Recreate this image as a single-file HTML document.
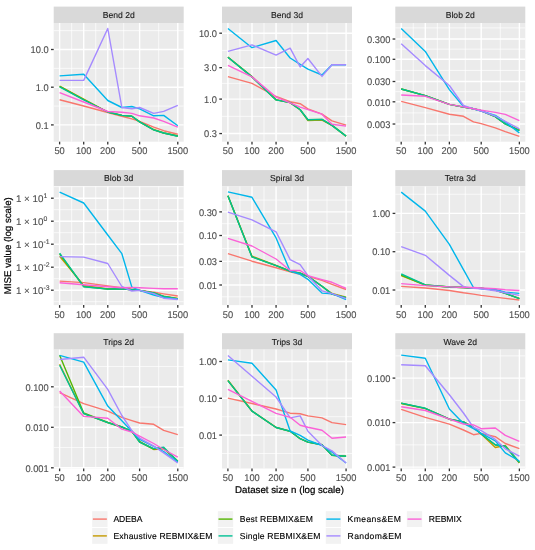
<!DOCTYPE html>
<html><head><meta charset="utf-8"><style>
html,body{margin:0;padding:0;background:#fff;width:535px;height:550px;overflow:hidden}
svg{will-change:transform}
svg text{font-family:"Liberation Sans",sans-serif;stroke:currentColor;stroke-width:0.12px;text-rendering:geometricPrecision}

</style></head><body>
<svg width="535" height="550" viewBox="0 0 535 550" style="display:block">
<rect width="535" height="550" fill="#fff"/>
<rect x="53.7" y="6.6" width="130" height="16.4" fill="#D9D9D9"/>
<text x="118.7" y="17.9" font-size="8.6" fill="#1A1A1A" color="#1A1A1A" text-anchor="middle">Bend 2d</text>
<rect x="53.7" y="23" width="130" height="118.7" fill="#EBEBEB"/>
<svg x="53.7" y="23" width="130" height="118.7" viewBox="53.7 23 130 118.7" overflow="hidden">
<line x1="53.7" x2="183.7" y1="143.75" y2="143.75" stroke="#fff" stroke-width="0.7"/>
<line x1="53.7" x2="183.7" y1="106.05" y2="106.05" stroke="#fff" stroke-width="0.7"/>
<line x1="53.7" x2="183.7" y1="68.35" y2="68.35" stroke="#fff" stroke-width="0.7"/>
<line x1="53.7" x2="183.7" y1="30.65" y2="30.65" stroke="#fff" stroke-width="0.7"/>
<line x1="47.57" x2="47.57" y1="23" y2="141.7" stroke="#fff" stroke-width="0.7"/>
<line x1="71.65" x2="71.65" y1="23" y2="141.7" stroke="#fff" stroke-width="0.7"/>
<line x1="95.73" x2="95.73" y1="23" y2="141.7" stroke="#fff" stroke-width="0.7"/>
<line x1="123.69" x2="123.69" y1="23" y2="141.7" stroke="#fff" stroke-width="0.7"/>
<line x1="158.69" x2="158.69" y1="23" y2="141.7" stroke="#fff" stroke-width="0.7"/>
<line x1="189.82" x2="189.82" y1="23" y2="141.7" stroke="#fff" stroke-width="0.7"/>
<line x1="53.7" x2="183.7" y1="49.5" y2="49.5" stroke="#fff" stroke-width="1.4"/>
<line x1="53.7" x2="183.7" y1="87.2" y2="87.2" stroke="#fff" stroke-width="1.4"/>
<line x1="53.7" x2="183.7" y1="124.9" y2="124.9" stroke="#fff" stroke-width="1.4"/>
<line x1="59.61" x2="59.61" y1="23" y2="141.7" stroke="#fff" stroke-width="1.4"/>
<line x1="83.69" x2="83.69" y1="23" y2="141.7" stroke="#fff" stroke-width="1.4"/>
<line x1="107.77" x2="107.77" y1="23" y2="141.7" stroke="#fff" stroke-width="1.4"/>
<line x1="139.61" x2="139.61" y1="23" y2="141.7" stroke="#fff" stroke-width="1.4"/>
<line x1="177.78" x2="177.78" y1="23" y2="141.7" stroke="#fff" stroke-width="1.4"/>
<polyline points="59.61,99.8 83.69,106 107.77,112.5 121.86,116.3 131.86,118.9 139.61,121.3 153.7,127.1 163.69,130.7 177.78,134.3" fill="none" stroke="#F8766D" stroke-width="1.4" stroke-linejoin="round" stroke-linecap="butt"/>
<polyline points="59.61,86 83.69,99 107.77,112 121.86,115.4 131.86,116.3 139.61,121.9 153.7,129.5 163.69,133 177.78,136" fill="none" stroke="#C49A00" stroke-width="1.4" stroke-linejoin="round" stroke-linecap="butt"/>
<polyline points="59.61,86.3 83.69,99.5 107.77,112 121.86,115.4 131.86,116.3 139.61,121.9 153.7,129.8 163.69,133 177.78,136" fill="none" stroke="#53B400" stroke-width="1.4" stroke-linejoin="round" stroke-linecap="butt"/>
<polyline points="59.61,86.8 83.69,99.8 107.77,112 121.86,115.4 131.86,116.3 139.61,121.9 153.7,129.8 163.69,133 177.78,136.3" fill="none" stroke="#00C094" stroke-width="1.4" stroke-linejoin="round" stroke-linecap="butt"/>
<polyline points="59.61,75.9 83.69,74.3 107.77,100.5 121.86,107.5 131.86,106.5 139.61,108.8 153.7,115.8 163.69,115.4 177.78,125.8" fill="none" stroke="#00B6EB" stroke-width="1.4" stroke-linejoin="round" stroke-linecap="butt"/>
<polyline points="59.61,80.4 83.69,80.4 107.77,28.5 121.86,107.5 131.86,108.8 139.61,107.5 153.7,113.4 163.69,111.4 177.78,105.3" fill="none" stroke="#A58AFF" stroke-width="1.4" stroke-linejoin="round" stroke-linecap="butt"/>
<polyline points="59.61,92.6 83.69,102 107.77,111.5 121.86,112.2 131.86,113.4 139.61,115.8 153.7,118 163.69,121.3 177.78,127.1" fill="none" stroke="#FB61D7" stroke-width="1.4" stroke-linejoin="round" stroke-linecap="butt"/>
</svg>
<line x1="51" x2="53.7" y1="49.5" y2="49.5" stroke="#333" stroke-width="1.3"/>
<text transform="translate(48.7,49.7) scale(1,1.05)" y="3.33" font-size="9.3" fill="#4D4D4D" color="#4D4D4D" text-anchor="end">10.0</text>
<line x1="51" x2="53.7" y1="87.2" y2="87.2" stroke="#333" stroke-width="1.3"/>
<text transform="translate(48.7,87.4) scale(1,1.05)" y="3.33" font-size="9.3" fill="#4D4D4D" color="#4D4D4D" text-anchor="end">1.0</text>
<line x1="51" x2="53.7" y1="124.9" y2="124.9" stroke="#333" stroke-width="1.3"/>
<text transform="translate(48.7,125.1) scale(1,1.05)" y="3.33" font-size="9.3" fill="#4D4D4D" color="#4D4D4D" text-anchor="end">0.1</text>
<line x1="59.61" x2="59.61" y1="141.7" y2="144.4" stroke="#333" stroke-width="1.3"/>
<text transform="translate(59.61,150.7) scale(1,1.05)" y="3.33" font-size="9.3" fill="#4D4D4D" color="#4D4D4D" text-anchor="middle">50</text>
<line x1="83.69" x2="83.69" y1="141.7" y2="144.4" stroke="#333" stroke-width="1.3"/>
<text transform="translate(83.69,150.7) scale(1,1.05)" y="3.33" font-size="9.3" fill="#4D4D4D" color="#4D4D4D" text-anchor="middle">100</text>
<line x1="107.77" x2="107.77" y1="141.7" y2="144.4" stroke="#333" stroke-width="1.3"/>
<text transform="translate(107.77,150.7) scale(1,1.05)" y="3.33" font-size="9.3" fill="#4D4D4D" color="#4D4D4D" text-anchor="middle">200</text>
<line x1="139.61" x2="139.61" y1="141.7" y2="144.4" stroke="#333" stroke-width="1.3"/>
<text transform="translate(139.61,150.7) scale(1,1.05)" y="3.33" font-size="9.3" fill="#4D4D4D" color="#4D4D4D" text-anchor="middle">500</text>
<line x1="177.78" x2="177.78" y1="141.7" y2="144.4" stroke="#333" stroke-width="1.3"/>
<text transform="translate(177.78,150.7) scale(1,1.05)" y="3.33" font-size="9.3" fill="#4D4D4D" color="#4D4D4D" text-anchor="middle">1500</text>
<rect x="222" y="6.6" width="130" height="16.4" fill="#D9D9D9"/>
<text x="287" y="17.9" font-size="8.6" fill="#1A1A1A" color="#1A1A1A" text-anchor="middle">Bend 3d</text>
<rect x="222" y="23" width="130" height="118.7" fill="#EBEBEB"/>
<svg x="222" y="23" width="130" height="118.7" viewBox="222 23 130 118.7" overflow="hidden">
<line x1="222" x2="352" y1="150.79" y2="150.79" stroke="#fff" stroke-width="0.7"/>
<line x1="222" x2="352" y1="116.33" y2="116.33" stroke="#fff" stroke-width="0.7"/>
<line x1="222" x2="352" y1="83.38" y2="83.38" stroke="#fff" stroke-width="0.7"/>
<line x1="222" x2="352" y1="50.43" y2="50.43" stroke="#fff" stroke-width="0.7"/>
<line x1="222" x2="352" y1="15.97" y2="15.97" stroke="#fff" stroke-width="0.7"/>
<line x1="215.87" x2="215.87" y1="23" y2="141.7" stroke="#fff" stroke-width="0.7"/>
<line x1="239.95" x2="239.95" y1="23" y2="141.7" stroke="#fff" stroke-width="0.7"/>
<line x1="264.03" x2="264.03" y1="23" y2="141.7" stroke="#fff" stroke-width="0.7"/>
<line x1="291.99" x2="291.99" y1="23" y2="141.7" stroke="#fff" stroke-width="0.7"/>
<line x1="326.99" x2="326.99" y1="23" y2="141.7" stroke="#fff" stroke-width="0.7"/>
<line x1="358.12" x2="358.12" y1="23" y2="141.7" stroke="#fff" stroke-width="0.7"/>
<line x1="222" x2="352" y1="33.2" y2="33.2" stroke="#fff" stroke-width="1.4"/>
<line x1="222" x2="352" y1="67.66" y2="67.66" stroke="#fff" stroke-width="1.4"/>
<line x1="222" x2="352" y1="99.1" y2="99.1" stroke="#fff" stroke-width="1.4"/>
<line x1="222" x2="352" y1="133.56" y2="133.56" stroke="#fff" stroke-width="1.4"/>
<line x1="227.91" x2="227.91" y1="23" y2="141.7" stroke="#fff" stroke-width="1.4"/>
<line x1="251.99" x2="251.99" y1="23" y2="141.7" stroke="#fff" stroke-width="1.4"/>
<line x1="276.07" x2="276.07" y1="23" y2="141.7" stroke="#fff" stroke-width="1.4"/>
<line x1="307.91" x2="307.91" y1="23" y2="141.7" stroke="#fff" stroke-width="1.4"/>
<line x1="346.08" x2="346.08" y1="23" y2="141.7" stroke="#fff" stroke-width="1.4"/>
<polyline points="227.91,76.7 251.99,83.4 276.07,96.5 290.16,101.7 300.16,103.7 307.91,108.9 322,114.2 331.99,120.9 346.08,125.1" fill="none" stroke="#F8766D" stroke-width="1.4" stroke-linejoin="round" stroke-linecap="butt"/>
<polyline points="227.91,57 251.99,76.5 276.07,99.6 290.16,102.6 300.16,109.7 307.91,120.6 322,120.1 331.99,125.4 346.08,136.1" fill="none" stroke="#C49A00" stroke-width="1.4" stroke-linejoin="round" stroke-linecap="butt"/>
<polyline points="227.91,57.3 251.99,76.9 276.07,99.9 290.16,102.6 300.16,109.7 307.91,119.7 322,119.4 331.99,125.4 346.08,136.1" fill="none" stroke="#53B400" stroke-width="1.4" stroke-linejoin="round" stroke-linecap="butt"/>
<polyline points="227.91,57.3 251.99,76.9 276.07,99.9 290.16,102.6 300.16,109.7 307.91,119.7 322,119.4 331.99,125.4 346.08,136.1" fill="none" stroke="#00C094" stroke-width="1.4" stroke-linejoin="round" stroke-linecap="butt"/>
<polyline points="227.91,28.5 251.99,47.7 276.07,40.5 290.16,58 300.16,64.3 307.91,69.2 322,75 331.99,64.8 346.08,64.8" fill="none" stroke="#00B6EB" stroke-width="1.4" stroke-linejoin="round" stroke-linecap="butt"/>
<polyline points="227.91,51.4 251.99,44.9 276.07,55.1 290.16,48.2 300.16,67 307.91,58.5 322,76.4 331.99,64.8 346.08,64.8" fill="none" stroke="#A58AFF" stroke-width="1.4" stroke-linejoin="round" stroke-linecap="butt"/>
<polyline points="227.91,65.4 251.99,76.9 276.07,97.1 290.16,102.9 300.16,107.1 307.91,109.7 322,114.2 331.99,124.2 346.08,126.1" fill="none" stroke="#FB61D7" stroke-width="1.4" stroke-linejoin="round" stroke-linecap="butt"/>
</svg>
<line x1="219.3" x2="222" y1="33.2" y2="33.2" stroke="#333" stroke-width="1.3"/>
<text transform="translate(217,33.4) scale(1,1.05)" y="3.33" font-size="9.3" fill="#4D4D4D" color="#4D4D4D" text-anchor="end">10.0</text>
<line x1="219.3" x2="222" y1="67.66" y2="67.66" stroke="#333" stroke-width="1.3"/>
<text transform="translate(217,67.86) scale(1,1.05)" y="3.33" font-size="9.3" fill="#4D4D4D" color="#4D4D4D" text-anchor="end">3.0</text>
<line x1="219.3" x2="222" y1="99.1" y2="99.1" stroke="#333" stroke-width="1.3"/>
<text transform="translate(217,99.3) scale(1,1.05)" y="3.33" font-size="9.3" fill="#4D4D4D" color="#4D4D4D" text-anchor="end">1.0</text>
<line x1="219.3" x2="222" y1="133.56" y2="133.56" stroke="#333" stroke-width="1.3"/>
<text transform="translate(217,133.76) scale(1,1.05)" y="3.33" font-size="9.3" fill="#4D4D4D" color="#4D4D4D" text-anchor="end">0.3</text>
<line x1="227.91" x2="227.91" y1="141.7" y2="144.4" stroke="#333" stroke-width="1.3"/>
<text transform="translate(227.91,150.7) scale(1,1.05)" y="3.33" font-size="9.3" fill="#4D4D4D" color="#4D4D4D" text-anchor="middle">50</text>
<line x1="251.99" x2="251.99" y1="141.7" y2="144.4" stroke="#333" stroke-width="1.3"/>
<text transform="translate(251.99,150.7) scale(1,1.05)" y="3.33" font-size="9.3" fill="#4D4D4D" color="#4D4D4D" text-anchor="middle">100</text>
<line x1="276.07" x2="276.07" y1="141.7" y2="144.4" stroke="#333" stroke-width="1.3"/>
<text transform="translate(276.07,150.7) scale(1,1.05)" y="3.33" font-size="9.3" fill="#4D4D4D" color="#4D4D4D" text-anchor="middle">200</text>
<line x1="307.91" x2="307.91" y1="141.7" y2="144.4" stroke="#333" stroke-width="1.3"/>
<text transform="translate(307.91,150.7) scale(1,1.05)" y="3.33" font-size="9.3" fill="#4D4D4D" color="#4D4D4D" text-anchor="middle">500</text>
<line x1="346.08" x2="346.08" y1="141.7" y2="144.4" stroke="#333" stroke-width="1.3"/>
<text transform="translate(346.08,150.7) scale(1,1.05)" y="3.33" font-size="9.3" fill="#4D4D4D" color="#4D4D4D" text-anchor="middle">1500</text>
<rect x="395.3" y="6.6" width="130" height="16.4" fill="#D9D9D9"/>
<text x="460.3" y="17.9" font-size="8.6" fill="#1A1A1A" color="#1A1A1A" text-anchor="middle">Blob 2d</text>
<rect x="395.3" y="23" width="130" height="118.7" fill="#EBEBEB"/>
<svg x="395.3" y="23" width="130" height="118.7" viewBox="395.3 23 130 118.7" overflow="hidden">
<line x1="395.3" x2="525.3" y1="135.13" y2="135.13" stroke="#fff" stroke-width="0.7"/>
<line x1="395.3" x2="525.3" y1="112.91" y2="112.91" stroke="#fff" stroke-width="0.7"/>
<line x1="395.3" x2="525.3" y1="91.66" y2="91.66" stroke="#fff" stroke-width="0.7"/>
<line x1="395.3" x2="525.3" y1="70.41" y2="70.41" stroke="#fff" stroke-width="0.7"/>
<line x1="395.3" x2="525.3" y1="49.16" y2="49.16" stroke="#fff" stroke-width="0.7"/>
<line x1="395.3" x2="525.3" y1="27.91" y2="27.91" stroke="#fff" stroke-width="0.7"/>
<line x1="389.17" x2="389.17" y1="23" y2="141.7" stroke="#fff" stroke-width="0.7"/>
<line x1="413.25" x2="413.25" y1="23" y2="141.7" stroke="#fff" stroke-width="0.7"/>
<line x1="437.33" x2="437.33" y1="23" y2="141.7" stroke="#fff" stroke-width="0.7"/>
<line x1="465.29" x2="465.29" y1="23" y2="141.7" stroke="#fff" stroke-width="0.7"/>
<line x1="500.29" x2="500.29" y1="23" y2="141.7" stroke="#fff" stroke-width="0.7"/>
<line x1="531.42" x2="531.42" y1="23" y2="141.7" stroke="#fff" stroke-width="0.7"/>
<line x1="395.3" x2="525.3" y1="39.02" y2="39.02" stroke="#fff" stroke-width="1.4"/>
<line x1="395.3" x2="525.3" y1="59.3" y2="59.3" stroke="#fff" stroke-width="1.4"/>
<line x1="395.3" x2="525.3" y1="81.52" y2="81.52" stroke="#fff" stroke-width="1.4"/>
<line x1="395.3" x2="525.3" y1="101.8" y2="101.8" stroke="#fff" stroke-width="1.4"/>
<line x1="395.3" x2="525.3" y1="124.02" y2="124.02" stroke="#fff" stroke-width="1.4"/>
<line x1="401.21" x2="401.21" y1="23" y2="141.7" stroke="#fff" stroke-width="1.4"/>
<line x1="425.29" x2="425.29" y1="23" y2="141.7" stroke="#fff" stroke-width="1.4"/>
<line x1="449.37" x2="449.37" y1="23" y2="141.7" stroke="#fff" stroke-width="1.4"/>
<line x1="481.21" x2="481.21" y1="23" y2="141.7" stroke="#fff" stroke-width="1.4"/>
<line x1="519.38" x2="519.38" y1="23" y2="141.7" stroke="#fff" stroke-width="1.4"/>
<polyline points="401.21,101.4 425.29,107.6 449.37,114.2 463.46,116.3 473.46,121.9 481.21,123.6 495.3,127.8 505.29,131.7 519.38,136.3" fill="none" stroke="#F8766D" stroke-width="1.4" stroke-linejoin="round" stroke-linecap="butt"/>
<polyline points="401.21,89 425.29,95.7 449.37,104.4 463.46,107.1 473.46,108.8 481.21,110.8 495.3,116.7 505.29,123.9 519.38,130" fill="none" stroke="#C49A00" stroke-width="1.4" stroke-linejoin="round" stroke-linecap="butt"/>
<polyline points="401.21,89 425.29,95.7 449.37,104.4 463.46,107.1 473.46,108.8 481.21,110.8 495.3,116.7 505.29,123.9 519.38,130.4" fill="none" stroke="#53B400" stroke-width="1.4" stroke-linejoin="round" stroke-linecap="butt"/>
<polyline points="401.21,89 425.29,95.7 449.37,104.4 463.46,107.1 473.46,108.8 481.21,110.8 495.3,116.7 505.29,123.9 519.38,130.8" fill="none" stroke="#00C094" stroke-width="1.4" stroke-linejoin="round" stroke-linecap="butt"/>
<polyline points="401.21,28.5 425.29,51.4 449.37,89.6 463.46,106.5 473.46,108.8 481.21,111 495.3,115.4 505.29,121.9 519.38,133" fill="none" stroke="#00B6EB" stroke-width="1.4" stroke-linejoin="round" stroke-linecap="butt"/>
<polyline points="401.21,43.8 425.29,65.6 449.37,85.5 463.46,105.5 473.46,108.8 481.21,111 495.3,116 505.29,121.3 519.38,128.8" fill="none" stroke="#A58AFF" stroke-width="1.4" stroke-linejoin="round" stroke-linecap="butt"/>
<polyline points="401.21,95 425.29,96.3 449.37,104.4 463.46,106.9 473.46,108.8 481.21,110.1 495.3,112.4 505.29,114.4 519.38,120.6" fill="none" stroke="#FB61D7" stroke-width="1.4" stroke-linejoin="round" stroke-linecap="butt"/>
</svg>
<line x1="392.6" x2="395.3" y1="39.02" y2="39.02" stroke="#333" stroke-width="1.3"/>
<text transform="translate(390.3,39.22) scale(1,1.05)" y="3.33" font-size="9.3" fill="#4D4D4D" color="#4D4D4D" text-anchor="end">0.300</text>
<line x1="392.6" x2="395.3" y1="59.3" y2="59.3" stroke="#333" stroke-width="1.3"/>
<text transform="translate(390.3,59.5) scale(1,1.05)" y="3.33" font-size="9.3" fill="#4D4D4D" color="#4D4D4D" text-anchor="end">0.100</text>
<line x1="392.6" x2="395.3" y1="81.52" y2="81.52" stroke="#333" stroke-width="1.3"/>
<text transform="translate(390.3,81.72) scale(1,1.05)" y="3.33" font-size="9.3" fill="#4D4D4D" color="#4D4D4D" text-anchor="end">0.030</text>
<line x1="392.6" x2="395.3" y1="101.8" y2="101.8" stroke="#333" stroke-width="1.3"/>
<text transform="translate(390.3,102) scale(1,1.05)" y="3.33" font-size="9.3" fill="#4D4D4D" color="#4D4D4D" text-anchor="end">0.010</text>
<line x1="392.6" x2="395.3" y1="124.02" y2="124.02" stroke="#333" stroke-width="1.3"/>
<text transform="translate(390.3,124.22) scale(1,1.05)" y="3.33" font-size="9.3" fill="#4D4D4D" color="#4D4D4D" text-anchor="end">0.003</text>
<line x1="401.21" x2="401.21" y1="141.7" y2="144.4" stroke="#333" stroke-width="1.3"/>
<text transform="translate(401.21,150.7) scale(1,1.05)" y="3.33" font-size="9.3" fill="#4D4D4D" color="#4D4D4D" text-anchor="middle">50</text>
<line x1="425.29" x2="425.29" y1="141.7" y2="144.4" stroke="#333" stroke-width="1.3"/>
<text transform="translate(425.29,150.7) scale(1,1.05)" y="3.33" font-size="9.3" fill="#4D4D4D" color="#4D4D4D" text-anchor="middle">100</text>
<line x1="449.37" x2="449.37" y1="141.7" y2="144.4" stroke="#333" stroke-width="1.3"/>
<text transform="translate(449.37,150.7) scale(1,1.05)" y="3.33" font-size="9.3" fill="#4D4D4D" color="#4D4D4D" text-anchor="middle">200</text>
<line x1="481.21" x2="481.21" y1="141.7" y2="144.4" stroke="#333" stroke-width="1.3"/>
<text transform="translate(481.21,150.7) scale(1,1.05)" y="3.33" font-size="9.3" fill="#4D4D4D" color="#4D4D4D" text-anchor="middle">500</text>
<line x1="519.38" x2="519.38" y1="141.7" y2="144.4" stroke="#333" stroke-width="1.3"/>
<text transform="translate(519.38,150.7) scale(1,1.05)" y="3.33" font-size="9.3" fill="#4D4D4D" color="#4D4D4D" text-anchor="middle">1500</text>
<rect x="53.7" y="170.1" width="130" height="16.3" fill="#D9D9D9"/>
<text x="118.7" y="181.35" font-size="8.6" fill="#1A1A1A" color="#1A1A1A" text-anchor="middle">Blob 3d</text>
<rect x="53.7" y="186.4" width="130" height="118.7" fill="#EBEBEB"/>
<svg x="53.7" y="186.4" width="130" height="118.7" viewBox="53.7 186.4 130 118.7" overflow="hidden">
<line x1="53.7" x2="183.7" y1="301.7" y2="301.7" stroke="#fff" stroke-width="0.7"/>
<line x1="53.7" x2="183.7" y1="278.7" y2="278.7" stroke="#fff" stroke-width="0.7"/>
<line x1="53.7" x2="183.7" y1="255.7" y2="255.7" stroke="#fff" stroke-width="0.7"/>
<line x1="53.7" x2="183.7" y1="232.7" y2="232.7" stroke="#fff" stroke-width="0.7"/>
<line x1="53.7" x2="183.7" y1="209.7" y2="209.7" stroke="#fff" stroke-width="0.7"/>
<line x1="53.7" x2="183.7" y1="186.7" y2="186.7" stroke="#fff" stroke-width="0.7"/>
<line x1="47.57" x2="47.57" y1="186.4" y2="305.1" stroke="#fff" stroke-width="0.7"/>
<line x1="71.65" x2="71.65" y1="186.4" y2="305.1" stroke="#fff" stroke-width="0.7"/>
<line x1="95.73" x2="95.73" y1="186.4" y2="305.1" stroke="#fff" stroke-width="0.7"/>
<line x1="123.69" x2="123.69" y1="186.4" y2="305.1" stroke="#fff" stroke-width="0.7"/>
<line x1="158.69" x2="158.69" y1="186.4" y2="305.1" stroke="#fff" stroke-width="0.7"/>
<line x1="189.82" x2="189.82" y1="186.4" y2="305.1" stroke="#fff" stroke-width="0.7"/>
<line x1="53.7" x2="183.7" y1="198.2" y2="198.2" stroke="#fff" stroke-width="1.4"/>
<line x1="53.7" x2="183.7" y1="221.2" y2="221.2" stroke="#fff" stroke-width="1.4"/>
<line x1="53.7" x2="183.7" y1="244.2" y2="244.2" stroke="#fff" stroke-width="1.4"/>
<line x1="53.7" x2="183.7" y1="267.2" y2="267.2" stroke="#fff" stroke-width="1.4"/>
<line x1="53.7" x2="183.7" y1="290.2" y2="290.2" stroke="#fff" stroke-width="1.4"/>
<line x1="59.61" x2="59.61" y1="186.4" y2="305.1" stroke="#fff" stroke-width="1.4"/>
<line x1="83.69" x2="83.69" y1="186.4" y2="305.1" stroke="#fff" stroke-width="1.4"/>
<line x1="107.77" x2="107.77" y1="186.4" y2="305.1" stroke="#fff" stroke-width="1.4"/>
<line x1="139.61" x2="139.61" y1="186.4" y2="305.1" stroke="#fff" stroke-width="1.4"/>
<line x1="177.78" x2="177.78" y1="186.4" y2="305.1" stroke="#fff" stroke-width="1.4"/>
<polyline points="59.61,281.1 83.69,282.6 107.77,285.9 121.86,287.8 131.86,289.1 139.61,290.4 153.7,292.3 163.69,293.9 177.78,296" fill="none" stroke="#F8766D" stroke-width="1.4" stroke-linejoin="round" stroke-linecap="butt"/>
<polyline points="59.61,256.2 83.69,285.4 107.77,289 121.86,288.7 131.86,289.7 139.61,290.4 153.7,293 163.69,296.3 177.78,298.5" fill="none" stroke="#C49A00" stroke-width="1.4" stroke-linejoin="round" stroke-linecap="butt"/>
<polyline points="59.61,254 83.69,286.5 107.77,289 121.86,288.7 131.86,289.7 139.61,290.4 153.7,293 163.69,296.5 177.78,298.7" fill="none" stroke="#53B400" stroke-width="1.4" stroke-linejoin="round" stroke-linecap="butt"/>
<polyline points="59.61,253.1 83.69,286.7 107.77,289.1 121.86,288.7 131.86,289.7 139.61,290.4 153.7,293 163.69,296.5 177.78,298.9" fill="none" stroke="#00C094" stroke-width="1.4" stroke-linejoin="round" stroke-linecap="butt"/>
<polyline points="59.61,192.1 83.69,203 107.77,235 121.86,253.7 131.86,287.1 139.61,290.4 153.7,295 163.69,297.6 177.78,298.9" fill="none" stroke="#00B6EB" stroke-width="1.4" stroke-linejoin="round" stroke-linecap="butt"/>
<polyline points="59.61,256.6 83.69,257.1 107.77,263.5 121.86,286.5 131.86,291 139.61,290.4 153.7,293.6 163.69,298.2 177.78,299.5" fill="none" stroke="#A58AFF" stroke-width="1.4" stroke-linejoin="round" stroke-linecap="butt"/>
<polyline points="59.61,282.8 83.69,284.8 107.77,286.7 121.86,287.8 131.86,287.4 139.61,287.8 153.7,288.4 163.69,288.7 177.78,288.7" fill="none" stroke="#FB61D7" stroke-width="1.4" stroke-linejoin="round" stroke-linecap="butt"/>
</svg>
<line x1="51" x2="53.7" y1="198.2" y2="198.2" stroke="#333" stroke-width="1.3"/>
<text transform="translate(15.9,198)" y="3.51" font-size="9.8" fill="#4D4D4D" color="#4D4D4D">1 × 10<tspan font-size="6.86" dy="-3.4">1</tspan></text>
<line x1="51" x2="53.7" y1="221.2" y2="221.2" stroke="#333" stroke-width="1.3"/>
<text transform="translate(15.9,221)" y="3.51" font-size="9.8" fill="#4D4D4D" color="#4D4D4D">1 × 10<tspan font-size="6.86" dy="-3.4">0</tspan></text>
<line x1="51" x2="53.7" y1="244.2" y2="244.2" stroke="#333" stroke-width="1.3"/>
<text transform="translate(15.9,244)" y="3.51" font-size="9.8" fill="#4D4D4D" color="#4D4D4D">1 × 10<tspan font-size="6.86" dy="-3.4">-1</tspan></text>
<line x1="51" x2="53.7" y1="267.2" y2="267.2" stroke="#333" stroke-width="1.3"/>
<text transform="translate(15.9,267)" y="3.51" font-size="9.8" fill="#4D4D4D" color="#4D4D4D">1 × 10<tspan font-size="6.86" dy="-3.4">-2</tspan></text>
<line x1="51" x2="53.7" y1="290.2" y2="290.2" stroke="#333" stroke-width="1.3"/>
<text transform="translate(15.9,290)" y="3.51" font-size="9.8" fill="#4D4D4D" color="#4D4D4D">1 × 10<tspan font-size="6.86" dy="-3.4">-3</tspan></text>
<line x1="59.61" x2="59.61" y1="305.1" y2="307.8" stroke="#333" stroke-width="1.3"/>
<text transform="translate(59.61,314.1) scale(1,1.05)" y="3.33" font-size="9.3" fill="#4D4D4D" color="#4D4D4D" text-anchor="middle">50</text>
<line x1="83.69" x2="83.69" y1="305.1" y2="307.8" stroke="#333" stroke-width="1.3"/>
<text transform="translate(83.69,314.1) scale(1,1.05)" y="3.33" font-size="9.3" fill="#4D4D4D" color="#4D4D4D" text-anchor="middle">100</text>
<line x1="107.77" x2="107.77" y1="305.1" y2="307.8" stroke="#333" stroke-width="1.3"/>
<text transform="translate(107.77,314.1) scale(1,1.05)" y="3.33" font-size="9.3" fill="#4D4D4D" color="#4D4D4D" text-anchor="middle">200</text>
<line x1="139.61" x2="139.61" y1="305.1" y2="307.8" stroke="#333" stroke-width="1.3"/>
<text transform="translate(139.61,314.1) scale(1,1.05)" y="3.33" font-size="9.3" fill="#4D4D4D" color="#4D4D4D" text-anchor="middle">500</text>
<line x1="177.78" x2="177.78" y1="305.1" y2="307.8" stroke="#333" stroke-width="1.3"/>
<text transform="translate(177.78,314.1) scale(1,1.05)" y="3.33" font-size="9.3" fill="#4D4D4D" color="#4D4D4D" text-anchor="middle">1500</text>
<rect x="222" y="170.1" width="130" height="16.3" fill="#D9D9D9"/>
<text x="287" y="181.35" font-size="8.6" fill="#1A1A1A" color="#1A1A1A" text-anchor="middle">Spiral 3d</text>
<rect x="222" y="186.4" width="130" height="118.7" fill="#EBEBEB"/>
<svg x="222" y="186.4" width="130" height="118.7" viewBox="222 186.4 130 118.7" overflow="hidden">
<line x1="222" x2="352" y1="296.81" y2="296.81" stroke="#fff" stroke-width="0.7"/>
<line x1="222" x2="352" y1="273.19" y2="273.19" stroke="#fff" stroke-width="0.7"/>
<line x1="222" x2="352" y1="248.44" y2="248.44" stroke="#fff" stroke-width="0.7"/>
<line x1="222" x2="352" y1="223.69" y2="223.69" stroke="#fff" stroke-width="0.7"/>
<line x1="222" x2="352" y1="200.07" y2="200.07" stroke="#fff" stroke-width="0.7"/>
<line x1="215.87" x2="215.87" y1="186.4" y2="305.1" stroke="#fff" stroke-width="0.7"/>
<line x1="239.95" x2="239.95" y1="186.4" y2="305.1" stroke="#fff" stroke-width="0.7"/>
<line x1="264.03" x2="264.03" y1="186.4" y2="305.1" stroke="#fff" stroke-width="0.7"/>
<line x1="291.99" x2="291.99" y1="186.4" y2="305.1" stroke="#fff" stroke-width="0.7"/>
<line x1="326.99" x2="326.99" y1="186.4" y2="305.1" stroke="#fff" stroke-width="0.7"/>
<line x1="358.12" x2="358.12" y1="186.4" y2="305.1" stroke="#fff" stroke-width="0.7"/>
<line x1="222" x2="352" y1="211.88" y2="211.88" stroke="#fff" stroke-width="1.4"/>
<line x1="222" x2="352" y1="235.5" y2="235.5" stroke="#fff" stroke-width="1.4"/>
<line x1="222" x2="352" y1="261.38" y2="261.38" stroke="#fff" stroke-width="1.4"/>
<line x1="222" x2="352" y1="285" y2="285" stroke="#fff" stroke-width="1.4"/>
<line x1="227.91" x2="227.91" y1="186.4" y2="305.1" stroke="#fff" stroke-width="1.4"/>
<line x1="251.99" x2="251.99" y1="186.4" y2="305.1" stroke="#fff" stroke-width="1.4"/>
<line x1="276.07" x2="276.07" y1="186.4" y2="305.1" stroke="#fff" stroke-width="1.4"/>
<line x1="307.91" x2="307.91" y1="186.4" y2="305.1" stroke="#fff" stroke-width="1.4"/>
<line x1="346.08" x2="346.08" y1="186.4" y2="305.1" stroke="#fff" stroke-width="1.4"/>
<polyline points="227.91,253.6 251.99,261.2 276.07,267.8 290.16,271.8 300.16,274.4 307.91,276.4 322,280.3 331.99,284.3 346.08,289.5" fill="none" stroke="#F8766D" stroke-width="1.4" stroke-linejoin="round" stroke-linecap="butt"/>
<polyline points="227.91,195.8 251.99,256.2 276.07,265.3 290.16,271.2 300.16,273.1 307.91,276.4 322,286.2 331.99,293.5 346.08,297.3" fill="none" stroke="#C49A00" stroke-width="1.4" stroke-linejoin="round" stroke-linecap="butt"/>
<polyline points="227.91,195.8 251.99,256.9 276.07,265.6 290.16,271.2 300.16,273.1 307.91,276.4 322,286.2 331.99,294.1 346.08,297.6" fill="none" stroke="#53B400" stroke-width="1.4" stroke-linejoin="round" stroke-linecap="butt"/>
<polyline points="227.91,195.8 251.99,256.9 276.07,265.6 290.16,271.2 300.16,273.1 307.91,276.4 322,286.2 331.99,294.1 346.08,297.6" fill="none" stroke="#00C094" stroke-width="1.4" stroke-linejoin="round" stroke-linecap="butt"/>
<polyline points="227.91,191.9 251.99,197.3 276.07,237.9 290.16,271.2 300.16,274.4 307.91,279.3 322,293.1 331.99,293.7 346.08,299.7" fill="none" stroke="#00B6EB" stroke-width="1.4" stroke-linejoin="round" stroke-linecap="butt"/>
<polyline points="227.91,212.2 251.99,219.8 276.07,231.8 290.16,259.6 300.16,264.6 307.91,275.7 322,290.8 331.99,293.7 346.08,298.6" fill="none" stroke="#A58AFF" stroke-width="1.4" stroke-linejoin="round" stroke-linecap="butt"/>
<polyline points="227.91,238.3 251.99,246 276.07,259 290.16,270.5 300.16,270.5 307.91,275.7 322,279.7 331.99,282.3 346.08,288.4" fill="none" stroke="#FB61D7" stroke-width="1.4" stroke-linejoin="round" stroke-linecap="butt"/>
</svg>
<line x1="219.3" x2="222" y1="211.88" y2="211.88" stroke="#333" stroke-width="1.3"/>
<text transform="translate(217,212.08) scale(1,1.05)" y="3.33" font-size="9.3" fill="#4D4D4D" color="#4D4D4D" text-anchor="end">0.30</text>
<line x1="219.3" x2="222" y1="235.5" y2="235.5" stroke="#333" stroke-width="1.3"/>
<text transform="translate(217,235.7) scale(1,1.05)" y="3.33" font-size="9.3" fill="#4D4D4D" color="#4D4D4D" text-anchor="end">0.10</text>
<line x1="219.3" x2="222" y1="261.38" y2="261.38" stroke="#333" stroke-width="1.3"/>
<text transform="translate(217,261.58) scale(1,1.05)" y="3.33" font-size="9.3" fill="#4D4D4D" color="#4D4D4D" text-anchor="end">0.03</text>
<line x1="219.3" x2="222" y1="285" y2="285" stroke="#333" stroke-width="1.3"/>
<text transform="translate(217,285.2) scale(1,1.05)" y="3.33" font-size="9.3" fill="#4D4D4D" color="#4D4D4D" text-anchor="end">0.01</text>
<line x1="227.91" x2="227.91" y1="305.1" y2="307.8" stroke="#333" stroke-width="1.3"/>
<text transform="translate(227.91,314.1) scale(1,1.05)" y="3.33" font-size="9.3" fill="#4D4D4D" color="#4D4D4D" text-anchor="middle">50</text>
<line x1="251.99" x2="251.99" y1="305.1" y2="307.8" stroke="#333" stroke-width="1.3"/>
<text transform="translate(251.99,314.1) scale(1,1.05)" y="3.33" font-size="9.3" fill="#4D4D4D" color="#4D4D4D" text-anchor="middle">100</text>
<line x1="276.07" x2="276.07" y1="305.1" y2="307.8" stroke="#333" stroke-width="1.3"/>
<text transform="translate(276.07,314.1) scale(1,1.05)" y="3.33" font-size="9.3" fill="#4D4D4D" color="#4D4D4D" text-anchor="middle">200</text>
<line x1="307.91" x2="307.91" y1="305.1" y2="307.8" stroke="#333" stroke-width="1.3"/>
<text transform="translate(307.91,314.1) scale(1,1.05)" y="3.33" font-size="9.3" fill="#4D4D4D" color="#4D4D4D" text-anchor="middle">500</text>
<line x1="346.08" x2="346.08" y1="305.1" y2="307.8" stroke="#333" stroke-width="1.3"/>
<text transform="translate(346.08,314.1) scale(1,1.05)" y="3.33" font-size="9.3" fill="#4D4D4D" color="#4D4D4D" text-anchor="middle">1500</text>
<rect x="395.3" y="170.1" width="130" height="16.3" fill="#D9D9D9"/>
<text x="460.3" y="181.35" font-size="8.6" fill="#1A1A1A" color="#1A1A1A" text-anchor="middle">Tetra 3d</text>
<rect x="395.3" y="186.4" width="130" height="118.7" fill="#EBEBEB"/>
<svg x="395.3" y="186.4" width="130" height="118.7" viewBox="395.3 186.4 130 118.7" overflow="hidden">
<line x1="395.3" x2="525.3" y1="309.15" y2="309.15" stroke="#fff" stroke-width="0.7"/>
<line x1="395.3" x2="525.3" y1="270.85" y2="270.85" stroke="#fff" stroke-width="0.7"/>
<line x1="395.3" x2="525.3" y1="232.55" y2="232.55" stroke="#fff" stroke-width="0.7"/>
<line x1="395.3" x2="525.3" y1="194.25" y2="194.25" stroke="#fff" stroke-width="0.7"/>
<line x1="389.17" x2="389.17" y1="186.4" y2="305.1" stroke="#fff" stroke-width="0.7"/>
<line x1="413.25" x2="413.25" y1="186.4" y2="305.1" stroke="#fff" stroke-width="0.7"/>
<line x1="437.33" x2="437.33" y1="186.4" y2="305.1" stroke="#fff" stroke-width="0.7"/>
<line x1="465.29" x2="465.29" y1="186.4" y2="305.1" stroke="#fff" stroke-width="0.7"/>
<line x1="500.29" x2="500.29" y1="186.4" y2="305.1" stroke="#fff" stroke-width="0.7"/>
<line x1="531.42" x2="531.42" y1="186.4" y2="305.1" stroke="#fff" stroke-width="0.7"/>
<line x1="395.3" x2="525.3" y1="213.4" y2="213.4" stroke="#fff" stroke-width="1.4"/>
<line x1="395.3" x2="525.3" y1="251.7" y2="251.7" stroke="#fff" stroke-width="1.4"/>
<line x1="395.3" x2="525.3" y1="290" y2="290" stroke="#fff" stroke-width="1.4"/>
<line x1="401.21" x2="401.21" y1="186.4" y2="305.1" stroke="#fff" stroke-width="1.4"/>
<line x1="425.29" x2="425.29" y1="186.4" y2="305.1" stroke="#fff" stroke-width="1.4"/>
<line x1="449.37" x2="449.37" y1="186.4" y2="305.1" stroke="#fff" stroke-width="1.4"/>
<line x1="481.21" x2="481.21" y1="186.4" y2="305.1" stroke="#fff" stroke-width="1.4"/>
<line x1="519.38" x2="519.38" y1="186.4" y2="305.1" stroke="#fff" stroke-width="1.4"/>
<polyline points="401.21,286.4 425.29,288 449.37,290.5 463.46,292.8 473.46,294.1 481.21,295.4 495.3,297.1 505.29,298.4 519.38,300" fill="none" stroke="#F8766D" stroke-width="1.4" stroke-linejoin="round" stroke-linecap="butt"/>
<polyline points="401.21,275.7 425.29,285.2 449.37,287 463.46,287.5 473.46,288.2 481.21,288.2 495.3,290.1 505.29,293.4 519.38,298.3" fill="none" stroke="#C49A00" stroke-width="1.4" stroke-linejoin="round" stroke-linecap="butt"/>
<polyline points="401.21,275.1 425.29,285 449.37,287 463.46,287.5 473.46,288.2 481.21,288.2 495.3,290.1 505.29,293.4 519.38,298.6" fill="none" stroke="#53B400" stroke-width="1.4" stroke-linejoin="round" stroke-linecap="butt"/>
<polyline points="401.21,274 425.29,284.9 449.37,287 463.46,287.5 473.46,288.2 481.21,288.2 495.3,290.1 505.29,293.4 519.38,298.6" fill="none" stroke="#00C094" stroke-width="1.4" stroke-linejoin="round" stroke-linecap="butt"/>
<polyline points="401.21,192.1 425.29,211.1 449.37,244.4 463.46,269.6 473.46,287.5 481.21,288.8 495.3,289.5 505.29,292.1 519.38,293.4" fill="none" stroke="#00B6EB" stroke-width="1.4" stroke-linejoin="round" stroke-linecap="butt"/>
<polyline points="401.21,246.6 425.29,255.3 449.37,275.4 463.46,286.6 473.46,288.2 481.21,288.8 495.3,290.8 505.29,292.8 519.38,295.4" fill="none" stroke="#A58AFF" stroke-width="1.4" stroke-linejoin="round" stroke-linecap="butt"/>
<polyline points="401.21,283.6 425.29,285.6 449.37,286.9 463.46,287.5 473.46,287.5 481.21,287.9 495.3,288.8 505.29,289.7 519.38,290.5" fill="none" stroke="#FB61D7" stroke-width="1.4" stroke-linejoin="round" stroke-linecap="butt"/>
</svg>
<line x1="392.6" x2="395.3" y1="213.4" y2="213.4" stroke="#333" stroke-width="1.3"/>
<text transform="translate(390.3,213.6) scale(1,1.05)" y="3.33" font-size="9.3" fill="#4D4D4D" color="#4D4D4D" text-anchor="end">1.00</text>
<line x1="392.6" x2="395.3" y1="251.7" y2="251.7" stroke="#333" stroke-width="1.3"/>
<text transform="translate(390.3,251.9) scale(1,1.05)" y="3.33" font-size="9.3" fill="#4D4D4D" color="#4D4D4D" text-anchor="end">0.10</text>
<line x1="392.6" x2="395.3" y1="290" y2="290" stroke="#333" stroke-width="1.3"/>
<text transform="translate(390.3,290.2) scale(1,1.05)" y="3.33" font-size="9.3" fill="#4D4D4D" color="#4D4D4D" text-anchor="end">0.01</text>
<line x1="401.21" x2="401.21" y1="305.1" y2="307.8" stroke="#333" stroke-width="1.3"/>
<text transform="translate(401.21,314.1) scale(1,1.05)" y="3.33" font-size="9.3" fill="#4D4D4D" color="#4D4D4D" text-anchor="middle">50</text>
<line x1="425.29" x2="425.29" y1="305.1" y2="307.8" stroke="#333" stroke-width="1.3"/>
<text transform="translate(425.29,314.1) scale(1,1.05)" y="3.33" font-size="9.3" fill="#4D4D4D" color="#4D4D4D" text-anchor="middle">100</text>
<line x1="449.37" x2="449.37" y1="305.1" y2="307.8" stroke="#333" stroke-width="1.3"/>
<text transform="translate(449.37,314.1) scale(1,1.05)" y="3.33" font-size="9.3" fill="#4D4D4D" color="#4D4D4D" text-anchor="middle">200</text>
<line x1="481.21" x2="481.21" y1="305.1" y2="307.8" stroke="#333" stroke-width="1.3"/>
<text transform="translate(481.21,314.1) scale(1,1.05)" y="3.33" font-size="9.3" fill="#4D4D4D" color="#4D4D4D" text-anchor="middle">500</text>
<line x1="519.38" x2="519.38" y1="305.1" y2="307.8" stroke="#333" stroke-width="1.3"/>
<text transform="translate(519.38,314.1) scale(1,1.05)" y="3.33" font-size="9.3" fill="#4D4D4D" color="#4D4D4D" text-anchor="middle">1500</text>
<rect x="53.7" y="333.2" width="130" height="16.4" fill="#D9D9D9"/>
<text x="118.7" y="344.5" font-size="8.6" fill="#1A1A1A" color="#1A1A1A" text-anchor="middle">Trips 2d</text>
<rect x="53.7" y="349.6" width="130" height="118.9" fill="#EBEBEB"/>
<svg x="53.7" y="349.6" width="130" height="118.9" viewBox="53.7 349.6 130 118.9" overflow="hidden">
<line x1="53.7" x2="183.7" y1="488.05" y2="488.05" stroke="#fff" stroke-width="0.7"/>
<line x1="53.7" x2="183.7" y1="447.55" y2="447.55" stroke="#fff" stroke-width="0.7"/>
<line x1="53.7" x2="183.7" y1="407.05" y2="407.05" stroke="#fff" stroke-width="0.7"/>
<line x1="53.7" x2="183.7" y1="366.55" y2="366.55" stroke="#fff" stroke-width="0.7"/>
<line x1="47.57" x2="47.57" y1="349.6" y2="468.5" stroke="#fff" stroke-width="0.7"/>
<line x1="71.65" x2="71.65" y1="349.6" y2="468.5" stroke="#fff" stroke-width="0.7"/>
<line x1="95.73" x2="95.73" y1="349.6" y2="468.5" stroke="#fff" stroke-width="0.7"/>
<line x1="123.69" x2="123.69" y1="349.6" y2="468.5" stroke="#fff" stroke-width="0.7"/>
<line x1="158.69" x2="158.69" y1="349.6" y2="468.5" stroke="#fff" stroke-width="0.7"/>
<line x1="189.82" x2="189.82" y1="349.6" y2="468.5" stroke="#fff" stroke-width="0.7"/>
<line x1="53.7" x2="183.7" y1="386.8" y2="386.8" stroke="#fff" stroke-width="1.4"/>
<line x1="53.7" x2="183.7" y1="427.3" y2="427.3" stroke="#fff" stroke-width="1.4"/>
<line x1="53.7" x2="183.7" y1="467.8" y2="467.8" stroke="#fff" stroke-width="1.4"/>
<line x1="59.61" x2="59.61" y1="349.6" y2="468.5" stroke="#fff" stroke-width="1.4"/>
<line x1="83.69" x2="83.69" y1="349.6" y2="468.5" stroke="#fff" stroke-width="1.4"/>
<line x1="107.77" x2="107.77" y1="349.6" y2="468.5" stroke="#fff" stroke-width="1.4"/>
<line x1="139.61" x2="139.61" y1="349.6" y2="468.5" stroke="#fff" stroke-width="1.4"/>
<line x1="177.78" x2="177.78" y1="349.6" y2="468.5" stroke="#fff" stroke-width="1.4"/>
<polyline points="59.61,392.6 83.69,403.6 107.77,411.1 121.86,417.3 131.86,420.6 139.61,423 153.7,424.3 163.69,430.3 177.78,434.7" fill="none" stroke="#F8766D" stroke-width="1.4" stroke-linejoin="round" stroke-linecap="butt"/>
<polyline points="59.61,364.2 83.69,413.6 107.77,422.5 121.86,427 131.86,431.3 139.61,441.4 153.7,449.5 163.69,448.8 177.78,461" fill="none" stroke="#C49A00" stroke-width="1.4" stroke-linejoin="round" stroke-linecap="butt"/>
<polyline points="59.61,355.3 83.69,413 107.77,422.5 121.86,427 131.86,431.3 139.61,442 153.7,449 163.69,448 177.78,461.3" fill="none" stroke="#53B400" stroke-width="1.4" stroke-linejoin="round" stroke-linecap="butt"/>
<polyline points="59.61,365.3 83.69,413.6 107.77,422.7 121.86,427 131.86,431.3 139.61,442.1 153.7,448.6 163.69,447.2 177.78,461.6" fill="none" stroke="#00C094" stroke-width="1.4" stroke-linejoin="round" stroke-linecap="butt"/>
<polyline points="59.61,355.3 83.69,362.1 107.77,406.1 121.86,420.8 131.86,431.3 139.61,439.4 153.7,446.4 163.69,451.5 177.78,462.3" fill="none" stroke="#00B6EB" stroke-width="1.4" stroke-linejoin="round" stroke-linecap="butt"/>
<polyline points="59.61,359.5 83.69,357.2 107.77,389.3 121.86,415.5 131.86,430.7 139.61,438.1 153.7,446.2 163.69,452.9 177.78,463" fill="none" stroke="#A58AFF" stroke-width="1.4" stroke-linejoin="round" stroke-linecap="butt"/>
<polyline points="59.61,391 83.69,416.4 107.77,418.3 121.86,429.2 131.86,432 139.61,436.1 153.7,443.5 163.69,449.5 177.78,457.2" fill="none" stroke="#FB61D7" stroke-width="1.4" stroke-linejoin="round" stroke-linecap="butt"/>
</svg>
<line x1="51" x2="53.7" y1="386.8" y2="386.8" stroke="#333" stroke-width="1.3"/>
<text transform="translate(48.7,387) scale(1,1.05)" y="3.33" font-size="9.3" fill="#4D4D4D" color="#4D4D4D" text-anchor="end">0.100</text>
<line x1="51" x2="53.7" y1="427.3" y2="427.3" stroke="#333" stroke-width="1.3"/>
<text transform="translate(48.7,427.5) scale(1,1.05)" y="3.33" font-size="9.3" fill="#4D4D4D" color="#4D4D4D" text-anchor="end">0.010</text>
<line x1="51" x2="53.7" y1="467.8" y2="467.8" stroke="#333" stroke-width="1.3"/>
<text transform="translate(48.7,468) scale(1,1.05)" y="3.33" font-size="9.3" fill="#4D4D4D" color="#4D4D4D" text-anchor="end">0.001</text>
<line x1="59.61" x2="59.61" y1="468.5" y2="471.2" stroke="#333" stroke-width="1.3"/>
<text transform="translate(59.61,477.5) scale(1,1.05)" y="3.33" font-size="9.3" fill="#4D4D4D" color="#4D4D4D" text-anchor="middle">50</text>
<line x1="83.69" x2="83.69" y1="468.5" y2="471.2" stroke="#333" stroke-width="1.3"/>
<text transform="translate(83.69,477.5) scale(1,1.05)" y="3.33" font-size="9.3" fill="#4D4D4D" color="#4D4D4D" text-anchor="middle">100</text>
<line x1="107.77" x2="107.77" y1="468.5" y2="471.2" stroke="#333" stroke-width="1.3"/>
<text transform="translate(107.77,477.5) scale(1,1.05)" y="3.33" font-size="9.3" fill="#4D4D4D" color="#4D4D4D" text-anchor="middle">200</text>
<line x1="139.61" x2="139.61" y1="468.5" y2="471.2" stroke="#333" stroke-width="1.3"/>
<text transform="translate(139.61,477.5) scale(1,1.05)" y="3.33" font-size="9.3" fill="#4D4D4D" color="#4D4D4D" text-anchor="middle">500</text>
<line x1="177.78" x2="177.78" y1="468.5" y2="471.2" stroke="#333" stroke-width="1.3"/>
<text transform="translate(177.78,477.5) scale(1,1.05)" y="3.33" font-size="9.3" fill="#4D4D4D" color="#4D4D4D" text-anchor="middle">1500</text>
<rect x="222" y="333.2" width="130" height="16.4" fill="#D9D9D9"/>
<text x="287" y="344.5" font-size="8.6" fill="#1A1A1A" color="#1A1A1A" text-anchor="middle">Trips 3d</text>
<rect x="222" y="349.6" width="130" height="118.9" fill="#EBEBEB"/>
<svg x="222" y="349.6" width="130" height="118.9" viewBox="222 349.6 130 118.9" overflow="hidden">
<line x1="222" x2="352" y1="453.5" y2="453.5" stroke="#fff" stroke-width="0.7"/>
<line x1="222" x2="352" y1="416.7" y2="416.7" stroke="#fff" stroke-width="0.7"/>
<line x1="222" x2="352" y1="379.9" y2="379.9" stroke="#fff" stroke-width="0.7"/>
<line x1="222" x2="352" y1="343.1" y2="343.1" stroke="#fff" stroke-width="0.7"/>
<line x1="215.87" x2="215.87" y1="349.6" y2="468.5" stroke="#fff" stroke-width="0.7"/>
<line x1="239.95" x2="239.95" y1="349.6" y2="468.5" stroke="#fff" stroke-width="0.7"/>
<line x1="264.03" x2="264.03" y1="349.6" y2="468.5" stroke="#fff" stroke-width="0.7"/>
<line x1="291.99" x2="291.99" y1="349.6" y2="468.5" stroke="#fff" stroke-width="0.7"/>
<line x1="326.99" x2="326.99" y1="349.6" y2="468.5" stroke="#fff" stroke-width="0.7"/>
<line x1="358.12" x2="358.12" y1="349.6" y2="468.5" stroke="#fff" stroke-width="0.7"/>
<line x1="222" x2="352" y1="361.5" y2="361.5" stroke="#fff" stroke-width="1.4"/>
<line x1="222" x2="352" y1="398.3" y2="398.3" stroke="#fff" stroke-width="1.4"/>
<line x1="222" x2="352" y1="435.1" y2="435.1" stroke="#fff" stroke-width="1.4"/>
<line x1="227.91" x2="227.91" y1="349.6" y2="468.5" stroke="#fff" stroke-width="1.4"/>
<line x1="251.99" x2="251.99" y1="349.6" y2="468.5" stroke="#fff" stroke-width="1.4"/>
<line x1="276.07" x2="276.07" y1="349.6" y2="468.5" stroke="#fff" stroke-width="1.4"/>
<line x1="307.91" x2="307.91" y1="349.6" y2="468.5" stroke="#fff" stroke-width="1.4"/>
<line x1="346.08" x2="346.08" y1="349.6" y2="468.5" stroke="#fff" stroke-width="1.4"/>
<polyline points="227.91,398.1 251.99,403.5 276.07,409 290.16,413.2 300.16,413.8 307.91,415.9 322,417.9 331.99,422.6 346.08,424.6" fill="none" stroke="#F8766D" stroke-width="1.4" stroke-linejoin="round" stroke-linecap="butt"/>
<polyline points="227.91,380.3 251.99,411 276.07,427.3 290.16,431.3 300.16,438.7 307.91,442.1 322,444.8 331.99,455.3 346.08,456.2" fill="none" stroke="#C49A00" stroke-width="1.4" stroke-linejoin="round" stroke-linecap="butt"/>
<polyline points="227.91,380.6 251.99,411.1 276.07,427.5 290.16,431.3 300.16,438.7 307.91,442.1 322,444.8 331.99,455.3 346.08,456.2" fill="none" stroke="#53B400" stroke-width="1.4" stroke-linejoin="round" stroke-linecap="butt"/>
<polyline points="227.91,380.6 251.99,411.1 276.07,427.5 290.16,431.3 300.16,438.7 307.91,442.1 322,444.8 331.99,455.3 346.08,456.2" fill="none" stroke="#00C094" stroke-width="1.4" stroke-linejoin="round" stroke-linecap="butt"/>
<polyline points="227.91,359.9 251.99,363.2 276.07,390 290.16,431 300.16,435.4 307.91,440.1 322,445.5 331.99,452.2 346.08,463" fill="none" stroke="#00B6EB" stroke-width="1.4" stroke-linejoin="round" stroke-linecap="butt"/>
<polyline points="227.91,355.5 251.99,376.3 276.07,397 290.16,417.9 300.16,415.9 307.91,431.3 322,445.5 331.99,450.9 346.08,463" fill="none" stroke="#A58AFF" stroke-width="1.4" stroke-linejoin="round" stroke-linecap="butt"/>
<polyline points="227.91,389.3 251.99,401.3 276.07,413.3 290.16,417.3 300.16,425.3 307.91,427.3 322,430.3 331.99,438.3 346.08,437" fill="none" stroke="#FB61D7" stroke-width="1.4" stroke-linejoin="round" stroke-linecap="butt"/>
</svg>
<line x1="219.3" x2="222" y1="361.5" y2="361.5" stroke="#333" stroke-width="1.3"/>
<text transform="translate(217,361.7) scale(1,1.05)" y="3.33" font-size="9.3" fill="#4D4D4D" color="#4D4D4D" text-anchor="end">1.00</text>
<line x1="219.3" x2="222" y1="398.3" y2="398.3" stroke="#333" stroke-width="1.3"/>
<text transform="translate(217,398.5) scale(1,1.05)" y="3.33" font-size="9.3" fill="#4D4D4D" color="#4D4D4D" text-anchor="end">0.10</text>
<line x1="219.3" x2="222" y1="435.1" y2="435.1" stroke="#333" stroke-width="1.3"/>
<text transform="translate(217,435.3) scale(1,1.05)" y="3.33" font-size="9.3" fill="#4D4D4D" color="#4D4D4D" text-anchor="end">0.01</text>
<line x1="227.91" x2="227.91" y1="468.5" y2="471.2" stroke="#333" stroke-width="1.3"/>
<text transform="translate(227.91,477.5) scale(1,1.05)" y="3.33" font-size="9.3" fill="#4D4D4D" color="#4D4D4D" text-anchor="middle">50</text>
<line x1="251.99" x2="251.99" y1="468.5" y2="471.2" stroke="#333" stroke-width="1.3"/>
<text transform="translate(251.99,477.5) scale(1,1.05)" y="3.33" font-size="9.3" fill="#4D4D4D" color="#4D4D4D" text-anchor="middle">100</text>
<line x1="276.07" x2="276.07" y1="468.5" y2="471.2" stroke="#333" stroke-width="1.3"/>
<text transform="translate(276.07,477.5) scale(1,1.05)" y="3.33" font-size="9.3" fill="#4D4D4D" color="#4D4D4D" text-anchor="middle">200</text>
<line x1="307.91" x2="307.91" y1="468.5" y2="471.2" stroke="#333" stroke-width="1.3"/>
<text transform="translate(307.91,477.5) scale(1,1.05)" y="3.33" font-size="9.3" fill="#4D4D4D" color="#4D4D4D" text-anchor="middle">500</text>
<line x1="346.08" x2="346.08" y1="468.5" y2="471.2" stroke="#333" stroke-width="1.3"/>
<text transform="translate(346.08,477.5) scale(1,1.05)" y="3.33" font-size="9.3" fill="#4D4D4D" color="#4D4D4D" text-anchor="middle">1500</text>
<rect x="395.3" y="333.2" width="130" height="16.4" fill="#D9D9D9"/>
<text x="460.3" y="344.5" font-size="8.6" fill="#1A1A1A" color="#1A1A1A" text-anchor="middle">Wave 2d</text>
<rect x="395.3" y="349.6" width="130" height="118.9" fill="#EBEBEB"/>
<svg x="395.3" y="349.6" width="130" height="118.9" viewBox="395.3 349.6 130 118.9" overflow="hidden">
<line x1="395.3" x2="525.3" y1="489.35" y2="489.35" stroke="#fff" stroke-width="0.7"/>
<line x1="395.3" x2="525.3" y1="444.85" y2="444.85" stroke="#fff" stroke-width="0.7"/>
<line x1="395.3" x2="525.3" y1="400.35" y2="400.35" stroke="#fff" stroke-width="0.7"/>
<line x1="395.3" x2="525.3" y1="355.85" y2="355.85" stroke="#fff" stroke-width="0.7"/>
<line x1="389.17" x2="389.17" y1="349.6" y2="468.5" stroke="#fff" stroke-width="0.7"/>
<line x1="413.25" x2="413.25" y1="349.6" y2="468.5" stroke="#fff" stroke-width="0.7"/>
<line x1="437.33" x2="437.33" y1="349.6" y2="468.5" stroke="#fff" stroke-width="0.7"/>
<line x1="465.29" x2="465.29" y1="349.6" y2="468.5" stroke="#fff" stroke-width="0.7"/>
<line x1="500.29" x2="500.29" y1="349.6" y2="468.5" stroke="#fff" stroke-width="0.7"/>
<line x1="531.42" x2="531.42" y1="349.6" y2="468.5" stroke="#fff" stroke-width="0.7"/>
<line x1="395.3" x2="525.3" y1="378.1" y2="378.1" stroke="#fff" stroke-width="1.4"/>
<line x1="395.3" x2="525.3" y1="422.6" y2="422.6" stroke="#fff" stroke-width="1.4"/>
<line x1="395.3" x2="525.3" y1="467.1" y2="467.1" stroke="#fff" stroke-width="1.4"/>
<line x1="401.21" x2="401.21" y1="349.6" y2="468.5" stroke="#fff" stroke-width="1.4"/>
<line x1="425.29" x2="425.29" y1="349.6" y2="468.5" stroke="#fff" stroke-width="1.4"/>
<line x1="449.37" x2="449.37" y1="349.6" y2="468.5" stroke="#fff" stroke-width="1.4"/>
<line x1="481.21" x2="481.21" y1="349.6" y2="468.5" stroke="#fff" stroke-width="1.4"/>
<line x1="519.38" x2="519.38" y1="349.6" y2="468.5" stroke="#fff" stroke-width="1.4"/>
<polyline points="401.21,409.4 425.29,417.3 449.37,424.2 463.46,430 473.46,434.7 481.21,433.4 495.3,436.7 505.29,443.5 519.38,448.6" fill="none" stroke="#F8766D" stroke-width="1.4" stroke-linejoin="round" stroke-linecap="butt"/>
<polyline points="401.21,403.5 425.29,408.6 449.37,419.2 463.46,421.9 473.46,427.3 481.21,434 495.3,447.5 505.29,445.5 519.38,463" fill="none" stroke="#C49A00" stroke-width="1.4" stroke-linejoin="round" stroke-linecap="butt"/>
<polyline points="401.21,403.3 425.29,408.4 449.37,419.2 463.46,421.9 473.46,427.3 481.21,434 495.3,445 505.29,446.2 519.38,462.5" fill="none" stroke="#53B400" stroke-width="1.4" stroke-linejoin="round" stroke-linecap="butt"/>
<polyline points="401.21,403.1 425.29,408.3 449.37,419.2 463.46,421.9 473.46,427.3 481.21,434 495.3,444.8 505.29,446.2 519.38,462.3" fill="none" stroke="#00C094" stroke-width="1.4" stroke-linejoin="round" stroke-linecap="butt"/>
<polyline points="401.21,355.1 425.29,358.2 449.37,409 463.46,423.5 473.46,428.7 481.21,433.4 495.3,440.8 505.29,452.9 519.38,461" fill="none" stroke="#00B6EB" stroke-width="1.4" stroke-linejoin="round" stroke-linecap="butt"/>
<polyline points="401.21,364.7 425.29,365.8 449.37,394.8 463.46,413 473.46,427.3 481.21,430.7 495.3,439.4 505.29,448.8 519.38,456.2" fill="none" stroke="#A58AFF" stroke-width="1.4" stroke-linejoin="round" stroke-linecap="butt"/>
<polyline points="401.21,406.8 425.29,410.5 449.37,419.2 463.46,424 473.46,424.9 481.21,428.7 495.3,428 505.29,435.4 519.38,441.4" fill="none" stroke="#FB61D7" stroke-width="1.4" stroke-linejoin="round" stroke-linecap="butt"/>
</svg>
<line x1="392.6" x2="395.3" y1="378.1" y2="378.1" stroke="#333" stroke-width="1.3"/>
<text transform="translate(390.3,378.3) scale(1,1.05)" y="3.33" font-size="9.3" fill="#4D4D4D" color="#4D4D4D" text-anchor="end">0.100</text>
<line x1="392.6" x2="395.3" y1="422.6" y2="422.6" stroke="#333" stroke-width="1.3"/>
<text transform="translate(390.3,422.8) scale(1,1.05)" y="3.33" font-size="9.3" fill="#4D4D4D" color="#4D4D4D" text-anchor="end">0.010</text>
<line x1="392.6" x2="395.3" y1="467.1" y2="467.1" stroke="#333" stroke-width="1.3"/>
<text transform="translate(390.3,467.3) scale(1,1.05)" y="3.33" font-size="9.3" fill="#4D4D4D" color="#4D4D4D" text-anchor="end">0.001</text>
<line x1="401.21" x2="401.21" y1="468.5" y2="471.2" stroke="#333" stroke-width="1.3"/>
<text transform="translate(401.21,477.5) scale(1,1.05)" y="3.33" font-size="9.3" fill="#4D4D4D" color="#4D4D4D" text-anchor="middle">50</text>
<line x1="425.29" x2="425.29" y1="468.5" y2="471.2" stroke="#333" stroke-width="1.3"/>
<text transform="translate(425.29,477.5) scale(1,1.05)" y="3.33" font-size="9.3" fill="#4D4D4D" color="#4D4D4D" text-anchor="middle">100</text>
<line x1="449.37" x2="449.37" y1="468.5" y2="471.2" stroke="#333" stroke-width="1.3"/>
<text transform="translate(449.37,477.5) scale(1,1.05)" y="3.33" font-size="9.3" fill="#4D4D4D" color="#4D4D4D" text-anchor="middle">200</text>
<line x1="481.21" x2="481.21" y1="468.5" y2="471.2" stroke="#333" stroke-width="1.3"/>
<text transform="translate(481.21,477.5) scale(1,1.05)" y="3.33" font-size="9.3" fill="#4D4D4D" color="#4D4D4D" text-anchor="middle">500</text>
<line x1="519.38" x2="519.38" y1="468.5" y2="471.2" stroke="#333" stroke-width="1.3"/>
<text transform="translate(519.38,477.5) scale(1,1.05)" y="3.33" font-size="9.3" fill="#4D4D4D" color="#4D4D4D" text-anchor="middle">1500</text>
<text x="289.5" y="492.6" font-size="9.7" fill="#000" color="#000" text-anchor="middle" style="stroke-width:0.22px">Dataset size n (log scale)</text>
<text transform="translate(11.3,245.7) rotate(-90)" x="0" y="0" font-size="9.7" fill="#000" color="#000" text-anchor="middle" style="stroke-width:0.22px">MISE value (log scale)</text>
<rect x="92.2" y="511.2" width="15.3" height="15.8" fill="#F2F2F2"/>
<line x1="92.85" x2="106.85" y1="519.1" y2="519.1" stroke="#F8766D" stroke-width="1.4"/>
<text x="113.4" y="522.18" font-size="8.6" fill="#000" color="#000">ADEBA</text>
<rect x="92.2" y="528" width="15.3" height="15.8" fill="#F2F2F2"/>
<line x1="92.85" x2="106.85" y1="535.9" y2="535.9" stroke="#C49A00" stroke-width="1.4"/>
<text x="113.4" y="538.98" font-size="8.6" fill="#000" color="#000" textLength="98.9" lengthAdjust="spacing">Exhaustive REBMIX&amp;EM</text>
<rect x="217.85" y="511.2" width="15.3" height="15.8" fill="#F2F2F2"/>
<line x1="218.5" x2="232.5" y1="519.1" y2="519.1" stroke="#53B400" stroke-width="1.4"/>
<text x="239.8" y="522.18" font-size="8.6" fill="#000" color="#000" textLength="73.1" lengthAdjust="spacing">Best REBMIX&amp;EM</text>
<rect x="217.85" y="528" width="15.3" height="15.8" fill="#F2F2F2"/>
<line x1="218.5" x2="232.5" y1="535.9" y2="535.9" stroke="#00C094" stroke-width="1.4"/>
<text x="239.8" y="538.98" font-size="8.6" fill="#000" color="#000" textLength="80.5" lengthAdjust="spacing">Single REBMIX&amp;EM</text>
<rect x="325.75" y="511.2" width="15.3" height="15.8" fill="#F2F2F2"/>
<line x1="326.4" x2="340.4" y1="519.1" y2="519.1" stroke="#00B6EB" stroke-width="1.4"/>
<text x="347.6" y="522.18" font-size="8.6" fill="#000" color="#000" textLength="53.2" lengthAdjust="spacing">Kmeans&amp;EM</text>
<rect x="325.75" y="528" width="15.3" height="15.8" fill="#F2F2F2"/>
<line x1="326.4" x2="340.4" y1="535.9" y2="535.9" stroke="#A58AFF" stroke-width="1.4"/>
<text x="347.6" y="538.98" font-size="8.6" fill="#000" color="#000" textLength="53.9" lengthAdjust="spacing">Random&amp;EM</text>
<rect x="406.85" y="511.2" width="15.3" height="15.8" fill="#F2F2F2"/>
<line x1="407.5" x2="421.5" y1="519.1" y2="519.1" stroke="#FB61D7" stroke-width="1.4"/>
<text x="428.7" y="522.18" font-size="8.6" fill="#000" color="#000">REBMIX</text>
</svg>
</body></html>
